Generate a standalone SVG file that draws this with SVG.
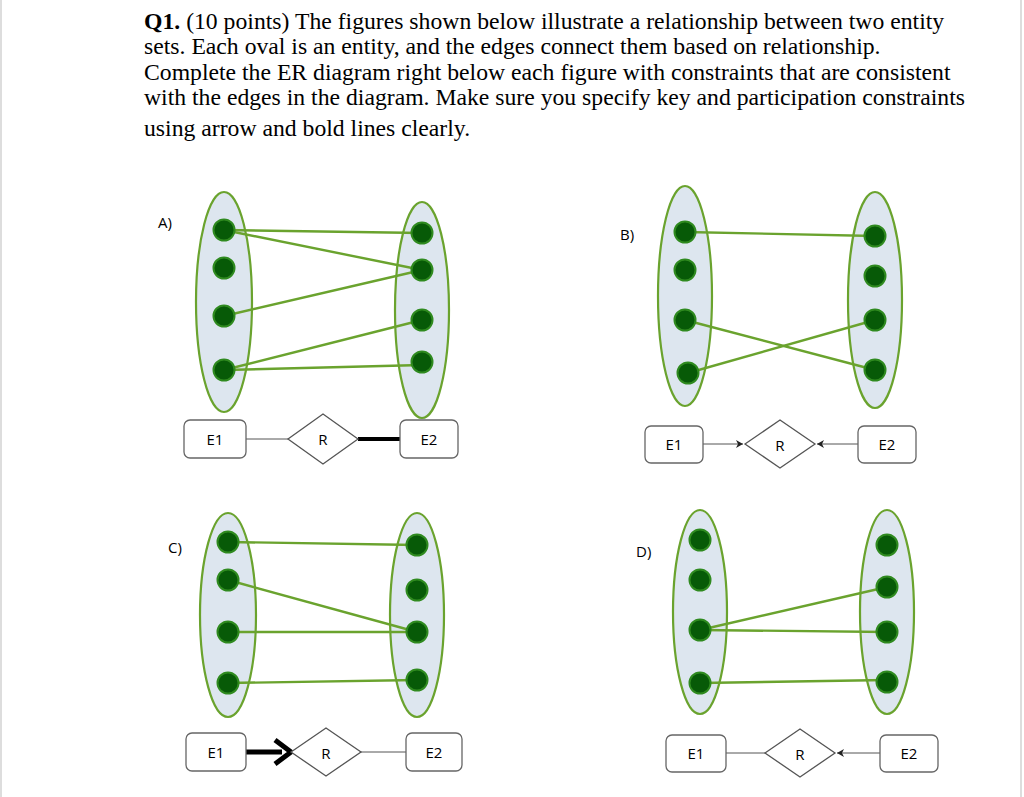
<svg xmlns="http://www.w3.org/2000/svg" width="1024" height="797" viewBox="0 0 1024 797">
<defs>
<style>
.t{font-family:"Liberation Serif",serif;font-size:23.7px;fill:#000}
.l{font-family:"Open Sans","Liberation Sans",sans-serif;font-size:15px;fill:#000}
.ov{fill:#dde6ef;stroke:#6aa32e;stroke-width:2.2}
.d{fill:#075a07;stroke:#2f8a1f;stroke-width:2}
.e{stroke:#6aa32e;stroke-width:2.4;fill:none}
.box{fill:#fff;stroke:#666;stroke-width:1.3}
.dia{fill:#fff;stroke:#555;stroke-width:1.3}
.c{stroke:#555;stroke-width:1;fill:none}
</style>
<marker id="ah" markerWidth="10" markerHeight="10" refX="8" refY="5" orient="auto" markerUnits="userSpaceOnUse"><path d="M1,1 L8,5 L1,9 L3,5 Z" fill="#222"/></marker>
</defs>
<rect x="0" y="0" width="1024" height="797" fill="#fff"/>
<line x1="1" y1="0" x2="1" y2="797" stroke="#bbb"/>
<line x1="1021" y1="0" x2="1021" y2="797" stroke="#bbb"/>
<g id="question">
<text class="t" x="144" y="29"><tspan font-weight="bold">Q1.</tspan> (10 points) The figures shown below illustrate a relationship between two entity</text>
<text class="t" x="144" y="54">sets. Each oval is an entity, and the edges connect them based on relationship.</text>
<text class="t" x="144" y="80">Complete the ER diagram right below each figure with constraints that are consistent</text>
<text class="t" x="144" y="105">with the edges in the diagram. Make sure you specify key and participation constraints</text>
<text class="t" x="144" y="136">using arrow and bold lines clearly.</text>
</g>
<g id="labels">
<text class="l" x="158" y="228">A)</text>
<text class="l" x="620" y="240">B)</text>
<text class="l" x="168" y="553">C)</text>
<text class="l" x="636" y="557">D)</text>
</g>
<g id="figA">
<ellipse class="ov" cx="224" cy="302" rx="28" ry="110"/>
<ellipse class="ov" cx="422" cy="310" rx="27" ry="108"/>
<line class="e" x1="224" y1="230" x2="422" y2="233"/>
<line class="e" x1="224" y1="230" x2="422" y2="270"/>
<line class="e" x1="224" y1="316" x2="422" y2="270"/>
<line class="e" x1="224" y1="370" x2="422" y2="320"/>
<line class="e" x1="224" y1="370" x2="422" y2="365"/>
<circle class="d" cx="224" cy="230" r="10.5"/><circle class="d" cx="224" cy="268" r="10.5"/><circle class="d" cx="224" cy="316" r="10.5"/><circle class="d" cx="224" cy="370" r="10.5"/>
<circle class="d" cx="422" cy="233" r="10.5"/><circle class="d" cx="422" cy="270" r="10.5"/><circle class="d" cx="422" cy="320" r="10.5"/><circle class="d" cx="422" cy="362" r="10.5"/>
</g>
<g id="figB">
<ellipse class="ov" cx="685" cy="296" rx="27" ry="110"/>
<ellipse class="ov" cx="875" cy="300" rx="27" ry="108"/>
<line class="e" x1="685" y1="232" x2="875" y2="236"/>
<line class="e" x1="685" y1="320" x2="875" y2="370"/>
<line class="e" x1="688" y1="373" x2="875" y2="320"/>
<circle class="d" cx="685" cy="232" r="10.5"/><circle class="d" cx="685" cy="270" r="10.5"/><circle class="d" cx="685" cy="320" r="10.5"/><circle class="d" cx="688" cy="373" r="10.5"/>
<circle class="d" cx="875" cy="236" r="10.5"/><circle class="d" cx="875" cy="276" r="10.5"/><circle class="d" cx="875" cy="320" r="10.5"/><circle class="d" cx="875" cy="370" r="10.5"/>
</g>
<g id="figC">
<ellipse class="ov" cx="228" cy="615" rx="28" ry="102"/>
<ellipse class="ov" cx="417" cy="615" rx="27" ry="102"/>
<line class="e" x1="228" y1="542" x2="417" y2="545"/>
<line class="e" x1="228" y1="580" x2="417" y2="632"/>
<line class="e" x1="228" y1="632" x2="417" y2="632"/>
<line class="e" x1="228" y1="683" x2="417" y2="680"/>
<circle class="d" cx="228" cy="542" r="10.5"/><circle class="d" cx="228" cy="580" r="10.5"/><circle class="d" cx="228" cy="632" r="10.5"/><circle class="d" cx="228" cy="683" r="10.5"/>
<circle class="d" cx="417" cy="545" r="10.5"/><circle class="d" cx="417" cy="590" r="10.5"/><circle class="d" cx="417" cy="632" r="10.5"/><circle class="d" cx="417" cy="680" r="10.5"/>
</g>
<g id="figD">
<ellipse class="ov" cx="700" cy="612" rx="27" ry="102"/>
<ellipse class="ov" cx="887" cy="612" rx="27" ry="102"/>
<line class="e" x1="700" y1="630" x2="887" y2="587"/>
<line class="e" x1="700" y1="630" x2="887" y2="632"/>
<line class="e" x1="700" y1="683" x2="887" y2="680"/>
<circle class="d" cx="700" cy="540" r="10.5"/><circle class="d" cx="700" cy="580" r="10.5"/><circle class="d" cx="700" cy="630" r="10.5"/><circle class="d" cx="700" cy="683" r="10.5"/>
<circle class="d" cx="887" cy="545" r="10.5"/><circle class="d" cx="887" cy="587" r="10.5"/><circle class="d" cx="887" cy="632" r="10.5"/><circle class="d" cx="887" cy="682" r="10.5"/>
</g>
<g id="connectors">
<line class="c" x1="246" y1="439" x2="288" y2="439"/>
<line x1="358" y1="439" x2="400" y2="439" stroke="#000" stroke-width="4"/>
<line class="c" x1="703" y1="444" x2="743" y2="444" marker-end="url(#ah)"/>
<line class="c" x1="858" y1="444" x2="817" y2="444" marker-end="url(#ah)"/>
<line x1="246" y1="752" x2="282" y2="752" stroke="#000" stroke-width="5"/>
<path d="M275,740 L291,752 L275,764" fill="none" stroke="#000" stroke-width="5" stroke-linejoin="miter"/>
<line class="c" x1="361" y1="752" x2="406" y2="752"/>
<line class="c" x1="726" y1="753" x2="765" y2="753"/>
<line class="c" x1="880" y1="753" x2="837" y2="753" marker-end="url(#ah)"/>
</g>
<g id="erA">
<rect class="box" x="184" y="420" width="62" height="38" rx="6"/><text class="l" x="215" y="445" text-anchor="middle">E1</text>
<path class="dia" d="M288,439 L323,414 L358,439 L323,464 Z"/><text class="l" x="323" y="445" text-anchor="middle">R</text>
<rect class="box" x="400" y="420" width="58" height="38" rx="6"/><text class="l" x="429" y="445" text-anchor="middle">E2</text>
</g>
<g id="erB">
<rect class="box" x="645" y="426" width="58" height="37" rx="6"/><text class="l" x="674" y="450" text-anchor="middle">E1</text>
<path class="dia" d="M745,444 L780,420 L815,444 L780,468 Z"/><text class="l" x="780" y="451" text-anchor="middle">R</text>
<rect class="box" x="858" y="426" width="58" height="37" rx="6"/><text class="l" x="887" y="450" text-anchor="middle">E2</text>
</g>
<g id="erC">
<rect class="box" x="186" y="733" width="60" height="38" rx="6"/><text class="l" x="216" y="758" text-anchor="middle">E1</text>
<path class="dia" d="M291,752 L326,728 L361,752 L326,776 Z"/><text class="l" x="326" y="759" text-anchor="middle">R</text>
<rect class="box" x="406" y="733" width="56" height="38" rx="6"/><text class="l" x="434" y="758" text-anchor="middle">E2</text>
</g>
<g id="erD">
<rect class="box" x="666" y="735" width="60" height="37" rx="6"/><text class="l" x="696" y="759" text-anchor="middle">E1</text>
<path class="dia" d="M765,753 L800,729 L835,753 L800,777 Z"/><text class="l" x="800" y="760" text-anchor="middle">R</text>
<rect class="box" x="880" y="735" width="58" height="37" rx="6"/><text class="l" x="909" y="759" text-anchor="middle">E2</text>
</g>
</svg>
